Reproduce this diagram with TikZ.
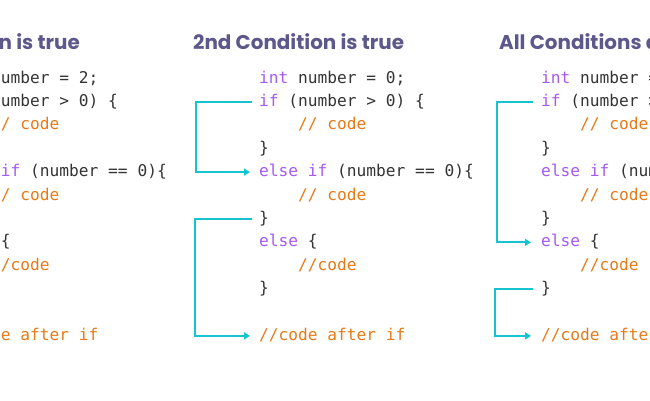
\documentclass[tikz,border=0pt]{standalone}
\usepackage{fontspec}
\usetikzlibrary{arrows.meta}
\newfontfamily\codefont{DejaVu Sans Mono}
\newfontfamily\headfont{Poppins}
\definecolor{headcol}{RGB}{92,88,140}
\definecolor{kwcol}{RGB}{165,90,240}
\definecolor{cmcol}{RGB}{230,122,24}
\definecolor{txtcol}{RGB}{52,52,52}
\definecolor{flowcol}{RGB}{22,196,208}
\newcommand\kw[1]{\textcolor{kwcol}{#1}}
\newcommand\cm[1]{\textcolor{cmcol}{#1}}
\newcommand\ind{\hphantom{0000}}
% one panel of code: name prefix, left x, value of number
\newcommand\codepanel[3]{%
  \foreach \txt [count=\i] in {%
      {\kw{int} number = #3;},
      {\kw{if} (number > 0) \{},
      {\ind\cm{// code}},
      {\}},
      {\kw{else if} (number == 0)\{},
      {\ind\cm{// code}},
      {\}},
      {\kw{else} \{},
      {\ind\cm{//code}},
      {\}},
      {},
      {\cm{//code after if}}}
    \node[code] (#1\i) at (#2, {83+23.4*(\i-1)}) {\txt};
}
\tikzset{
  code/.style={anchor=base west, inner sep=0pt, text height=12pt, text depth=3pt,
    font=\codefont\fontsize{16.2}{18}\selectfont, text=txtcol},
  head/.style={inner sep=0pt, font=\headfont\bfseries\fontsize{19.9}{22}\selectfont, text=headcol},
  flow/.style={draw=flowcol, line width=2pt, -{Triangle[length=6pt,width=7pt]}}
}
\begin{document}
\begin{tikzpicture}[x=1pt,y=-1pt]
    \useasboundingbox (0,0) rectangle (650,400);
    \clip (0,0) rectangle (650,400);
    % titles
    \node[head, anchor=base east] (h1) at (80,49) {1st Condition is true};
    \node[head, anchor=base west] (h2) at (193,49) {2nd Condition is true};
    \node[head, anchor=base west] (h3) at (499,49) {All Conditions are false};
    % code
    \codepanel{a}{-48}{2}
    \codepanel{b}{259}{0}
    \codepanel{c}{541}{-5}
    % jumps
    \draw[flow] ([xshift=-7]b2.west) -- ++(-56,0) |- ([xshift=-9]b5.west);
    \draw[flow] ([xshift=-7]b7.west) -- ++(-57,0) |- ([xshift=-9]b12.west);
    \draw[flow] ([xshift=-8]c2.west) -- ++(-36,0) |- ([xshift=-10]c8.west);
    \draw[flow] ([xshift=-8]c10.west) -- ++(-38,0) |- ([xshift=-10]c12.west);
\end{tikzpicture}
\end{document}
